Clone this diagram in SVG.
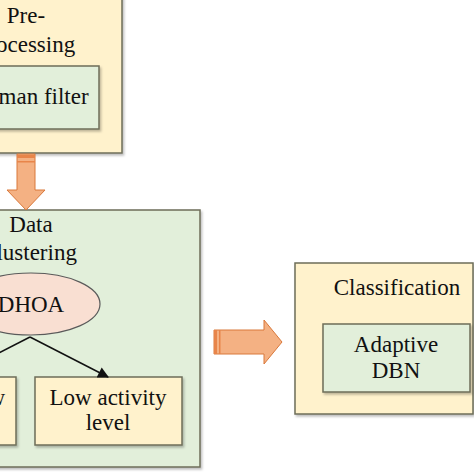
<svg xmlns="http://www.w3.org/2000/svg" width="474" height="474" viewBox="0 0 474 474">
<defs>
<style>
.y{fill:#FFF2CC;stroke:#6E6E58;stroke-width:1.5}
.g{fill:#E2EFDA;stroke:#6E6E58;stroke-width:1.5}
.p{fill:#F9DFD2;stroke:#5A5A5A;stroke-width:1.2}
.t{font-family:"Liberation Serif","Times New Roman",serif;font-size:23px;fill:#111;text-anchor:middle}
.ar{fill:#F4B183;stroke:#D9783A;stroke-width:1}
.st{fill:#E8854A}
.ln{stroke:#111;stroke-width:1.5;fill:none}
</style>
<filter id="sh" x="-10%" y="-10%" width="130%" height="130%">
<feDropShadow dx="1.5" dy="2" stdDeviation="1.2" flood-color="#000" flood-opacity="0.25"/>
</filter>
<marker id="ah" viewBox="0 0 10 10" refX="9" refY="5" markerWidth="12" markerHeight="11" orient="auto" markerUnits="userSpaceOnUse">
<path d="M0,0 L10,5 L0,10 z" fill="#111"/>
</marker>
</defs>
<rect width="474" height="474" fill="#fff"/>

<g id="preprocessing">
<rect class="y" x="-80" y="-10" width="202" height="163" filter="url(#sh)"/>
<text class="t" x="26" y="23">Pre-</text>
<text class="t" x="26" y="52">processing</text>
<g id="kalman">
<rect class="g" x="-50" y="66" width="149" height="63" filter="url(#sh)"/>
<text class="t" x="27" y="104">Kalman filter</text>
</g>
</g>

<g id="clustering">
<rect class="g" x="-80" y="210" width="280" height="257" filter="url(#sh)"/>
<text class="t" x="31" y="232">Data</text>
<text class="t" x="29" y="260">Clustering</text>
<g id="dhoa">
<ellipse class="p" cx="31" cy="304" rx="69" ry="31"/>
<text class="t" x="31" y="312">DHOA</text>
</g>
<g id="leftlevel">
<rect class="y" x="-130" y="377" width="146" height="68" filter="url(#sh)"/>
<text class="t" x="5" y="405" style="text-anchor:end">w</text>
</g>
<g id="lowlevel">
<rect class="y" x="35" y="377" width="147" height="68" filter="url(#sh)"/>
<text class="t" x="108" y="405">Low activity</text>
<text class="t" x="108" y="430">level</text>
</g>
</g>

<g id="classification">
<rect class="y" x="295" y="263" width="178" height="151" filter="url(#sh)"/>
<text class="t" x="397" y="295">Classification</text>
<g id="adbn">
<rect class="g" x="323" y="324" width="147" height="68" filter="url(#sh)"/>
<text class="t" x="396" y="352">Adaptive</text>
<text class="t" x="396" y="378">DBN</text>
</g>
</g>

<g id="connectors">
<path class="ar" d="M17,154 H35 V190 H45 L26,210 L7,190 H17 Z"/>
<rect class="st" x="17" y="155" width="18" height="3"/>
<rect class="st" x="17" y="161" width="18" height="1.5"/>
<path class="ar" d="M214,330 H264 V320 L282,342 L264,364 V354 H214 Z"/>
<rect class="st" x="214" y="330" width="3" height="24"/>
<rect class="st" x="219" y="330" width="1.5" height="24"/>
<line class="ln" x1="30" y1="337" x2="108" y2="377" marker-end="url(#ah)"/>
<line class="ln" x1="30" y1="337" x2="-48" y2="377" marker-end="url(#ah)"/>
</g>
</svg>
